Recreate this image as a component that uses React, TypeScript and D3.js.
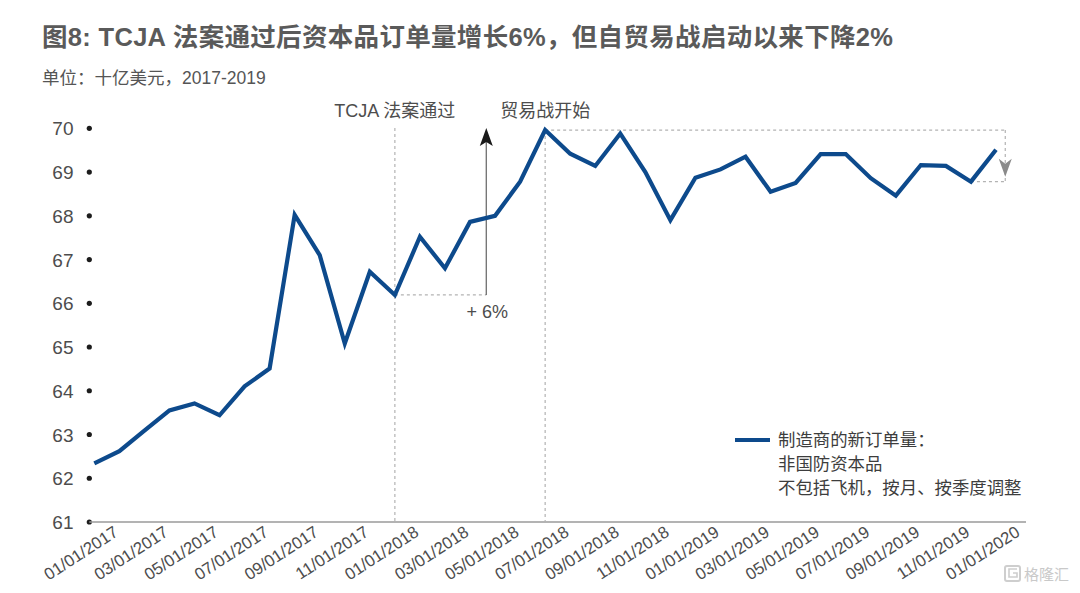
import React from 'react';
import * as d3 from 'd3';

// monthly new orders, 01/2017 .. 01/2020 (billion USD)
const orders = [
  62.34, 62.62, 63.09, 63.55, 63.71, 63.44, 64.1, 64.51, 68.02, 67.1, 65.08, 66.72,
  66.19, 67.52, 66.8, 67.86, 68.0, 68.78, 69.96, 69.42, 69.14, 69.88, 69.0, 67.9,
  68.87, 69.06, 69.35, 68.55, 68.75, 69.41, 69.41, 68.86, 68.46, 69.16, 69.14, 68.78,
  69.51,
];

const tickLabels = [
  '01/01/2017', '03/01/2017', '05/01/2017', '07/01/2017', '09/01/2017', '11/01/2017',
  '01/01/2018', '03/01/2018', '05/01/2018', '07/01/2018', '09/01/2018', '11/01/2018',
  '01/01/2019', '03/01/2019', '05/01/2019', '07/01/2019', '09/01/2019', '11/01/2019',
  '01/01/2020',
];

const yTicks = [61, 62, 63, 64, 65, 66, 67, 68, 69, 70];

const legendLines = ['制造商的新订单量：', '非国防资本品', '不包括飞机，按月、按季度调整'];

// event markers (month index) and the comparison points
const tcjaMonth = 12;
const tradeWarMonth = 18;
const riseArrowMonth = 15.65;
const dropEndMonth = 35;
const dropArrowMonth = 36.37;

const W = 1080;
const H = 593;
const FONT = "'Liberation Sans', Arial, 'Noto Sans CJK SC', sans-serif";
const BLUE = '#0d4a8c';

export default function App() {
  const x = d3.scaleLinear().domain([0, orders.length - 1]).range([94.3, 996]);
  const y = d3.scaleLinear().domain([61, 70]).range([522, 128.3]);

  const line = d3
    .line<number>()
    .x((_, i) => x(i))
    .y((d) => y(d));

  const axisY = y(61);
  const tcjaX = x(tcjaMonth);
  const warX = x(tradeWarMonth);
  const riseX = x(riseArrowMonth);
  const dropX = x(dropArrowMonth);
  const peakY = y(orders[tradeWarMonth]);
  const baseY = y(orders[tcjaMonth]);
  const lowY = y(orders[dropEndMonth]);

  const dash = { stroke: '#b3b3b3', strokeWidth: 1.2, strokeDasharray: '3,3', fill: 'none' };

  return (
    <svg
      width={W}
      height={H}
      viewBox={`0 0 ${W} ${H}`}
      style={{ position: 'absolute', left: 0, top: 0, background: '#fff' }}
      fontFamily={FONT}
    >
      <rect width={W} height={H} fill="#fff" />

      {/* title block */}
      <text
        x={42}
        y={46}
        fontSize={25.5}
        fontWeight="bold"
        fill="#5a5a5a"
        textLength={851}
        lengthAdjust="spacing"
      >
        图8: TCJA 法案通过后资本品订单量增长6%，但自贸易战启动以来下降2%
      </text>
      <text x={42} y={84} fontSize={17.5} fill="#555">
        单位：十亿美元，2017-2019
      </text>

      {/* y ticks: dots with labels */}
      {yTicks.map((t) => (
        <g key={t}>
          <circle cx={89.3} cy={y(t)} r={2.6} fill="#1c1c1c" />
          <text x={73.5} y={y(t) + 7} fontSize={19} fill="#4d4d4d" textAnchor="end">
            {t}
          </text>
        </g>
      ))}

      {/* x axis */}
      <line x1={89.3} x2={1026} y1={axisY} y2={axisY} stroke="#9a9a9a" strokeWidth={1.6} />
      {tickLabels.map((lab, i) => (
        <text
          key={lab}
          transform={`translate(${x(i * 2) + 25},${axisY + 13}) rotate(-33)`}
          fontSize={16.8}
          fill="#4d4d4d"
          textAnchor="end"
        >
          {lab}
        </text>
      ))}

      {/* TCJA marker and the rise since */}
      <line x1={tcjaX} x2={tcjaX} y1={128} y2={axisY} style={dash} />
      <line x1={tcjaX} x2={riseX} y1={baseY} y2={baseY} style={dash} />
      <line x1={riseX} x2={riseX} y1={baseY} y2={peakY + 10} stroke="#6e6e6e" strokeWidth={1.3} />
      <path
        d={`M${riseX},${peakY - 2} L${riseX - 6.5},${peakY + 16} L${riseX},${peakY + 12} L${riseX + 6.5},${peakY + 16} Z`}
        fill="#1a1a1a"
      />
      <text x={riseX + 1} y={318} fontSize={18} fill="#4d4d4d" textAnchor="middle">
        + 6%
      </text>
      <text x={tcjaX} y={117} fontSize={18} fill="#4d4d4d" textAnchor="middle">
        TCJA 法案通过
      </text>

      {/* trade war marker and the drop since */}
      <line x1={warX} x2={warX} y1={peakY} y2={axisY} style={dash} />
      <text x={warX} y={117} fontSize={18} fill="#4d4d4d" textAnchor="middle">
        贸易战开始
      </text>
      <line x1={warX} x2={dropX} y1={peakY} y2={peakY} style={dash} />
      <line x1={dropX} x2={dropX} y1={peakY} y2={lowY} style={dash} />
      <line x1={x(dropEndMonth)} x2={dropX} y1={lowY} y2={lowY} style={dash} />
      <path
        d={`M${dropX},${lowY - 5} L${dropX - 6.5},${lowY - 23} L${dropX},${lowY - 18} L${dropX + 6.5},${lowY - 23} Z`}
        fill="#8a8a8a"
      />

      {/* series */}
      <path
        d={line(orders) ?? ''}
        fill="none"
        stroke={BLUE}
        strokeWidth={4.2}
        strokeLinejoin="miter"
      />

      {/* legend */}
      <line x1={735} x2={770} y1={440} y2={440} stroke={BLUE} strokeWidth={4.2} />
      {legendLines.map((t, i) => (
        <text key={t} x={778} y={446 + i * 24} fontSize={17.4} fill="#3d3d3d">
          {t}
        </text>
      ))}

      {/* source mark */}
      <g opacity={0.9}>
        <rect x={1005} y={566} width={15} height={15} rx={2} fill="none" stroke="#c9c9c9" strokeWidth={2} />
        <path d="M1013,573 h4 v4 h-8 v-8 h8" fill="none" stroke="#c9c9c9" strokeWidth={1.6} />
        <text x={1024} y={580} fontSize={15} fill="#c4c4c4">
          格隆汇
        </text>
      </g>
    </svg>
  );
}
